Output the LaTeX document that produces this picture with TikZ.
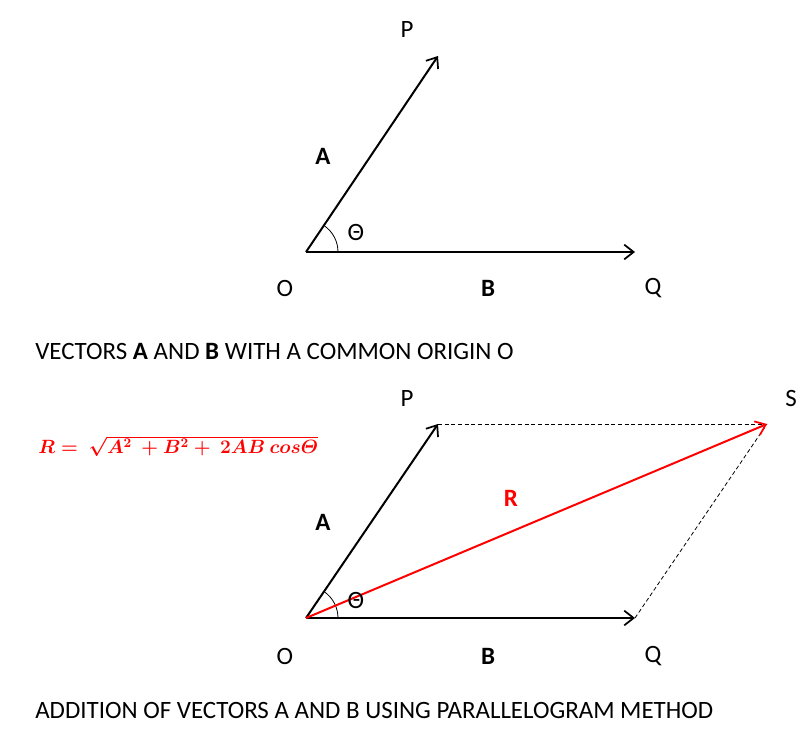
\documentclass[tikz,border=0pt]{standalone}
\usepackage{fontspec}
\setmainfont{Carlito}
\usepackage{amsmath}
\usetikzlibrary{arrows.meta}

\begin{document}
\begin{tikzpicture}[x=0.75pt,y=0.75pt,yscale=-1,xscale=1,
  vec/.style={line width=1.5pt,-{Straight Barb[length=7pt,width=11pt,line width=1.3pt]}},
  side/.style={line width=0.6pt,dash pattern=on 3pt off 2pt},
  lbl/.style={inner sep=0.75pt,font=\fontsize{18.7}{22}\selectfont},
  captxt/.style={inner sep=0.75pt,anchor=west,font=\fontsize{18.7}{22}\selectfont}]
\useasboundingbox (0,0) rectangle (807,738);

%Points of the first picture
\coordinate (O1) at (306,252);
\coordinate (P1) at (438,56);
\coordinate (Q1) at (635,252);
%Points of the second picture
\coordinate (O2) at (306,618);
\coordinate (P2) at (438,424);
\coordinate (Q2) at (635,618);
\coordinate (S2) at (767,424);

%Straight Lines
\draw [vec]   (O1) -- (P1) ;
%Straight Lines
\draw [vec]   (O1) -- (Q1) ;
%Arc
\draw [line width=0.6pt] ([xshift=24pt]O1) arc (0:-56:24pt) ;

%Straight Lines
\draw [side]   (P2) -- (S2) ;
%Straight Lines
\draw [side]   (Q2) -- (S2) ;
%Straight Lines
\draw [vec]   (O2) -- (P2) ;
%Straight Lines
\draw [vec]   (O2) -- (Q2) ;
%Arc
\draw [line width=0.6pt] ([xshift=24pt]O2) arc (0:-56:24pt) ;
%Straight Lines
\draw [vec,red]   (O2) -- (S2) ;

% Text Node
\node [lbl] (tP1) at (407,30) {P};
% Text Node
\node [lbl] (tA1) at (323,156) {\textbf{A}};
% Text Node
\node [lbl] (tT1) at (356,232) {Θ};
% Text Node
\node [lbl] (tO1) at (285,288) {O};
% Text Node
\node [lbl] (tB1) at (488,288) {\textbf{B}};
% Text Node
\node [lbl] (tQ1) at (653,288) {Q};
% Text Node
\node [captxt] (cap1) at (34,351) {VECTORS \textbf{A} AND \textbf{B} WITH A COMMON ORIGIN O};

% Text Node
\node [lbl] (tP2) at (407,398) {P};
% Text Node
\node [lbl] (tS2) at (791,398) {S};
% Text Node
\node [captxt,text=red,font=\fontsize{14.8}{18}\selectfont\boldmath] (form) at (37,446) {$R =\ \sqrt{A^{2}\ + B^{2} +\ 2AB\ cos\varTheta}$};
% Text Node
\node [lbl] (tA2) at (323,522) {\textbf{A}};
% Text Node
\node [lbl,text=red] (tR2) at (511,498) {\textbf{R}};
% Text Node
\node [lbl] (tT2) at (356,600) {Θ};
% Text Node
\node [lbl] (tO2) at (285,656) {O};
% Text Node
\node [lbl] (tB2) at (488,656) {\textbf{B}};
% Text Node
\node [lbl] (tQ2) at (653,656) {Q};
% Text Node
\node [captxt] (cap2) at (34,710) {ADDITION OF VECTORS A AND B USING PARALLELOGRAM METHOD};

\end{tikzpicture}
\end{document}
